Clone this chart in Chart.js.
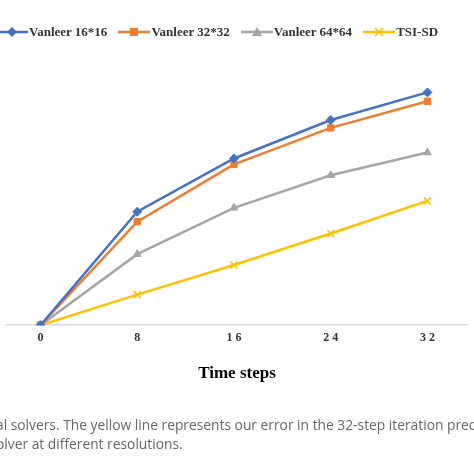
<!DOCTYPE html><html><head><meta charset="utf-8">
<script src="https://cdn.jsdelivr.net/npm/chart.js@4"></script>
<style>
body{margin:0;width:474px;height:474px;overflow:hidden;background:#fff;position:relative;font-family:"Liberation Serif",serif}
#wrap{position:absolute;left:0;top:0;width:474px;height:474px}
#legend{position:absolute;top:24px;left:-4px;display:flex;gap:11px;font-weight:bold;font-size:13px;color:#333;white-space:nowrap}
.it{display:flex;align-items:center;gap:1px}
.cap{position:absolute;left:-4px;font-family:"Open Sans",sans-serif;font-size:13.8px;color:#666;white-space:nowrap}
</style></head><body>
<div id="wrap"><canvas id="c" width="474" height="474"></canvas></div>
<div id="legend"></div>
<div class="cap" style="top:415px">al solvers. The yellow line represents our error in the 32-step iteration pred</div>
<div class="cap" style="top:434px">olver at different resolutions.</div>
<script>
const timeSteps=[0,8,16,24,32];
const tickLabels=["0","8","1 6","2 4","3 2"];
const seriesNames=["Vanleer 16*16","Vanleer 32*32","Vanleer 64*64","TSI-SD"];
const vanleer16=[0,115,169,208,236];
const vanleer32=[0,105,163,200,227];
const vanleer64=[0,72,119,152,175];
const tsisd=[0,31,61,93,126];
const colors=["#4472C4","#ED7D31","#A5A5A5","#FFC000"];
const markers=["rectRot","rect","triangle","crossRot"];
const all=[vanleer16,vanleer32,vanleer64,tsisd];
const lg=document.getElementById('legend');
seriesNames.forEach((n,i)=>{const d=document.createElement('div');d.className='it';
const cv=document.createElement('canvas');cv.width=32;cv.height=12;const g=cv.getContext('2d');
g.strokeStyle=colors[i];g.fillStyle=colors[i];g.lineWidth=2.5;g.beginPath();g.moveTo(0,6);g.lineTo(32,6);g.stroke();
g.beginPath();if(i==0){g.moveTo(16,1);g.lineTo(21,6);g.lineTo(16,11);g.lineTo(11,6);g.fill();}
else if(i==1){g.fillRect(12,2,8,8);}else if(i==2){g.moveTo(16,1);g.lineTo(21,10);g.lineTo(11,10);g.fill();}
else{g.lineWidth=1.5;g.moveTo(12,2);g.lineTo(20,10);g.moveTo(20,2);g.lineTo(12,10);g.stroke();}
d.appendChild(cv);const s=document.createElement('span');s.textContent=n;d.appendChild(s);lg.appendChild(d);});
new Chart(document.getElementById('c'),{type:'line',
data:{datasets:all.map((v,i)=>({label:seriesNames[i],data:timeSteps.map((t,j)=>({x:t,y:v[j]})),
borderColor:colors[i],backgroundColor:colors[i],borderWidth:2.5,pointStyle:markers[i],pointRadius:i==3?5:4.5,pointBorderWidth:i==3?1.5:1,tension:0}))},
options:{responsive:false,animation:false,layout:{padding:{top:49,left:0,right:0,bottom:86}},
plugins:{legend:{display:false},tooltip:{enabled:false}},
scales:{x:{type:'linear',min:-2.81,max:35.31,afterBuildTicks:a=>{a.ticks=timeSteps.map(v=>({value:v}));},
ticks:{autoSkip:false,maxRotation:0,color:'#333',font:{family:'Liberation Serif',weight:'bold',size:12},padding:6,callback:(v)=>tickLabels[timeSteps.indexOf(v)]},
grid:{display:false,drawTicks:false},border:{color:'#d9d9d9',width:1.5},
title:{display:true,text:'Time steps',color:'#000',font:{family:'Liberation Serif',weight:'bold',size:17},padding:{top:12}}},
y:{display:false,min:0,max:280}}}});
</script></body></html>
